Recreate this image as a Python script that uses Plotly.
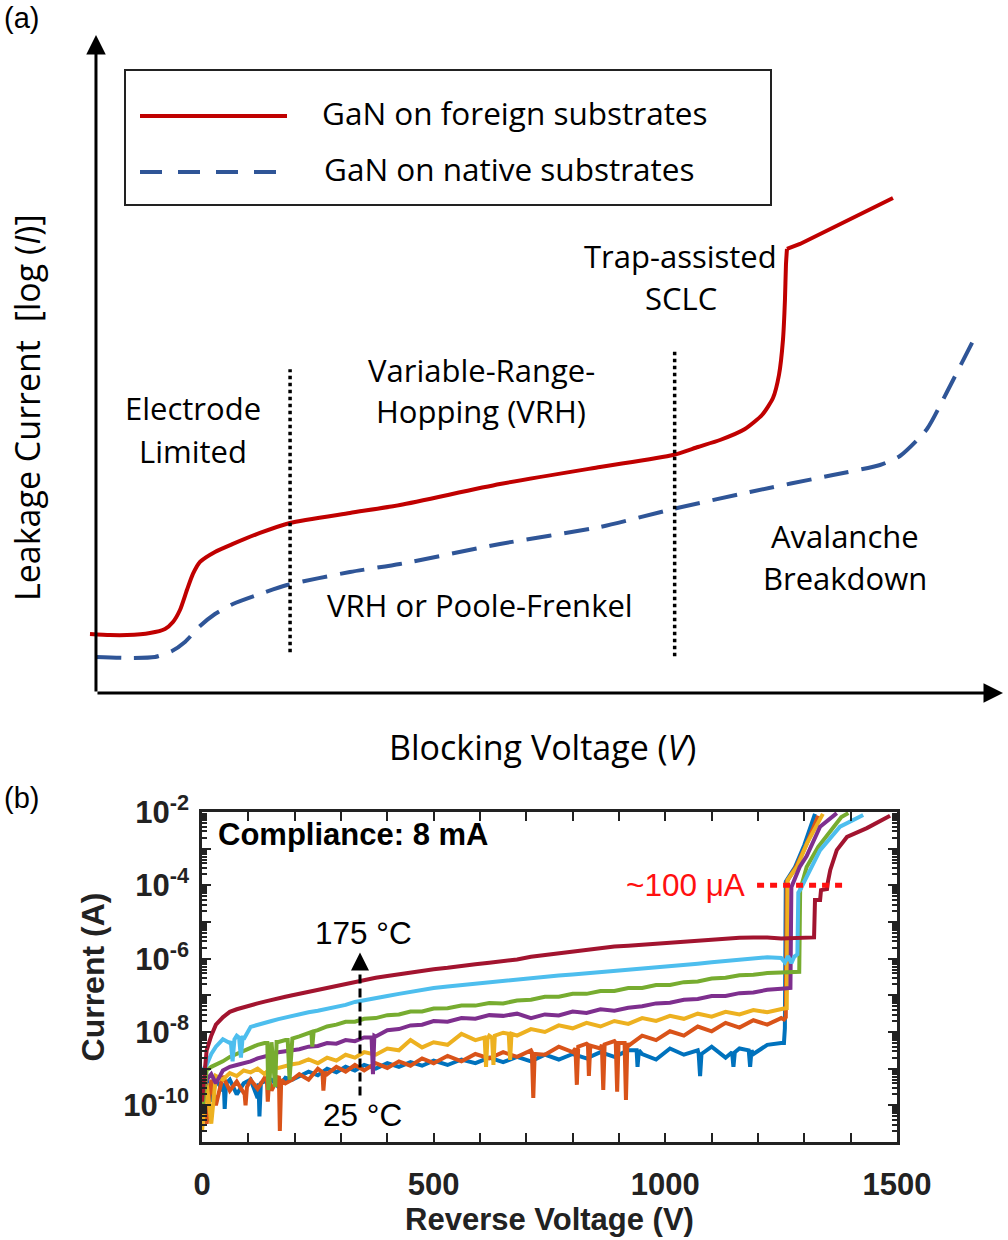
import plotly.graph_objects as go

W, H = 1008, 1240

# ---------------- Panel (a): schematic leakage curves (arbitrary units) ----------------
foreign_v = [-0.66, 1.54, 3.42, 5.95, 7.61, 8.49, 9.26, 10.03, 10.69, 11.47, 13.12, 15.10,
             18.08, 21.39, 28.0, 33.52, 44.54, 55.57, 63.61, 66.37, 68.8, 71.55, 73.43,
             74.64, 75.3, 75.74, 75.96, 76.07, 76.18]
foreign_logi = [8.97, 8.81, 8.81, 9.12, 9.73, 10.79, 12.61, 15.65, 18.09, 19.91, 21.43, 22.65,
                24.32, 25.84, 27.36, 28.57, 31.76, 34.35, 36.17, 37.39, 38.45, 40.12, 42.25,
                44.83, 48.33, 53.65, 59.73, 65.05, 67.48]
foreign_tail_v = [76.18, 77.62, 87.87]
foreign_tail_logi = [67.48, 68.24, 75.23]

native_v = [0, 3.75, 6.5, 8.38, 9.81, 11.47, 13.12, 15.1, 18.08, 21.06, 28.0, 33.52, 44.54,
            55.57, 63.61, 72.1, 81.25, 86.44, 88.64, 91.62, 93.82, 96.69]
native_logi = [5.47, 5.32, 5.47, 6.38, 7.75, 10.18, 12.01, 13.53, 15.05, 16.41, 18.39, 19.61,
               22.65, 25.23, 27.96, 30.55, 33.13, 34.65, 36.02, 40.12, 45.75, 53.5]

regime_bounds = [21.4, 63.8]

# ---------------- Panel (b): measured reverse I-V vs temperature ----------------
temps = ["25 °C", "50 °C", "75 °C", "100 °C", "125 °C", "150 °C", "175 °C"]

v_grid = [0, 10, 20, 30, 45, 60, 75, 90, 105, 120,
          135, 150, 165, 180, 195, 210, 230, 250, 270, 290,
          310, 330, 350, 375, 400, 425, 450, 475, 500, 530,
          560, 590, 620, 650, 680, 710, 740, 770, 800, 830,
          860, 890, 920, 950, 980, 1010, 1040, 1070, 1100, 1130,
          1160, 1190, 1220, 1250]

# 25 °C
logi_25 = [-10.4, -9.3, -9.9, -9.3, -9.6, -9.3, -9.7, -9.4, -9.3, -9.8,
           -9.35, -9.3, -9.5, -9.25, -9.3, -9.2, -9.08, -9.18, -9.0, -9.1,
           -8.95, -9.05, -8.9, -9.0, -8.85, -8.95, -8.82, -8.92, -8.78, -8.9,
           -8.75, -8.85, -8.7, -8.82, -8.68, -8.8, -8.62, -8.75, -8.6, -8.72,
           -8.55, -8.68, -8.5, -8.6, -8.75, -8.45, -8.62, -8.5, -8.4, -8.7,
           -8.45, -8.6, -8.35, -8.3]
spike_v_25 = [47, 49, 52, 122, 124, 127, 938, 940, 943, 1072, 1075, 1078, 1144, 1147, 1150,
              1180, 1183, 1186]
spike_logi_25 = [-9.4, -10.1, -9.4, -9.4, -10.3, -9.4, -8.5, -8.95, -8.5, -8.6, -9.2, -8.6,
                 -8.55, -8.95, -8.55, -8.5, -8.95, -8.5]
tail_v_25 = [1256, 1258, 1260, 1280, 1300, 1323]
tail_logi_25 = [-8.3, -7.9, -3.9, -3.5, -2.9, -2.05]

# 50 °C
logi_50 = [-9.6, -10.5, -9.3, -10.0, -9.2, -9.6, -9.35, -9.7, -9.3, -9.55,
           -9.25, -9.6, -9.2, -9.4, -9.3, -9.15, -9.3, -9.0, -9.15, -8.95,
           -9.08, -8.9, -9.05, -8.85, -8.98, -8.8, -8.92, -8.72, -8.85, -8.65,
           -8.8, -8.6, -8.72, -8.55, -8.68, -8.5, -8.62, -8.4, -8.55, -8.32,
           -8.45, -8.25, -8.38, -8.1, -8.22, -7.98, -8.1, -7.85, -7.98, -7.75,
           -7.88, -7.68, -7.8, -7.62]
spike_v_50 = [92, 94, 97, 140, 142, 145, 166, 168, 171, 260, 262, 265, 712, 715, 718,
              806, 809, 812, 833, 835, 838, 863, 866, 869, 893, 896, 899, 912, 915, 918]
spike_logi_50 = [-9.7, -10.0, -9.5, -9.3, -9.9, -9.3, -9.2, -10.7, -9.3, -9.1, -9.6, -9.1,
                 -8.55, -9.8, -8.6, -8.45, -9.44, -8.4, -8.35, -9.2, -8.37, -8.35, -9.58, -8.34,
                 -8.3, -9.63, -8.3, -8.3, -9.85, -8.3]
tail_v_50 = [1256, 1260, 1262, 1282, 1304, 1330]
tail_logi_50 = [-7.66, -7.6, -3.9, -3.5, -2.9, -2.1]

# 75 °C
logi_75 = [-10.7, -9.4, -10.5, -9.2, -9.3, -9.12, -9.2, -9.05, -9.1, -9.0,
           -9.15, -8.95, -8.98, -8.92, -8.88, -8.85, -8.75, -8.85, -8.7, -8.78,
           -8.62, -8.7, -8.55, -8.62, -8.45, -8.5, -8.22, -8.42, -8.28, -8.35,
           -8.05, -8.22, -8.1, -8.02, -8.1, -7.92, -8.0, -7.82, -7.9, -7.75,
           -7.85, -7.7, -7.78, -7.62, -7.7, -7.56, -7.64, -7.5, -7.58, -7.45,
           -7.52, -7.4, -7.46, -7.36]
spike_v_75 = [610, 613, 616, 626, 629, 632, 662, 665, 668]
spike_logi_75 = [-8.15, -8.95, -8.2, -8.15, -8.9, -8.1, -8.05, -8.76, -8.05]
tail_v_75 = [1256, 1262, 1264, 1284, 1306, 1340]
tail_logi_75 = [-7.36, -7.35, -3.85, -3.5, -2.85, -2.05]

# 100 °C
logi_100 = [-9.8, -9.3, -9.15, -9.4, -9.05, -8.95, -8.9, -8.85, -8.8, -8.72,
            -8.68, -8.62, -8.55, -8.52, -8.5, -8.47, -8.4, -8.38, -8.3, -8.32,
            -8.22, -8.25, -8.15, -8.12, -7.95, -7.92, -7.82, -7.8, -7.7, -7.72,
            -7.62, -7.64, -7.54, -7.56, -7.5, -7.62, -7.52, -7.55, -7.44, -7.48,
            -7.38, -7.42, -7.34, -7.3, -7.22, -7.2, -7.12, -7.1, -7.02, -7.02,
            -6.94, -6.92, -6.85, -6.82]
spike_v_100 = [366, 369, 372]
spike_logi_100 = [-8.15, -9.15, -8.1]
tail_v_100 = [1262, 1270, 1272, 1290, 1305, 1334, 1370]
tail_logi_100 = [-6.82, -6.8, -4.05, -3.5, -3.2, -2.4, -2.03]

# 125 °C
logi_125 = [-10.2, -9.05, -8.95, -8.9, -8.8, -8.68, -8.6, -8.5, -8.42, -8.35,
            -8.3, -8.28, -8.27, -8.22, -8.18, -8.12, -8.03, -7.95, -7.85, -7.8,
            -7.72, -7.72, -7.64, -7.62, -7.54, -7.52, -7.44, -7.44, -7.36, -7.35,
            -7.28, -7.28, -7.21, -7.22, -7.14, -7.12, -7.04, -7.04, -6.96, -6.96,
            -6.88, -6.88, -6.8, -6.8, -6.72, -6.72, -6.64, -6.62, -6.54, -6.52,
            -6.45, -6.44, -6.39, -6.38]
spike_v_125 = [141, 143, 146, 156, 158, 161, 185, 189, 193, 236, 238, 241]
spike_logi_125 = [-8.3, -9.58, -9.3, -9.2, -9.5, -8.27, -8.22, -9.3, -8.2, -8.0, -8.4, -7.98]
tail_v_125 = [1270, 1289, 1291, 1305, 1330, 1380, 1395]
tail_logi_125 = [-6.37, -6.36, -4.13, -3.5, -2.95, -2.14, -2.03]

# 150 °C
logi_150 = [-9.05, -8.9, -8.6, -8.4, -8.2, -8.3, -8.1, -8.2, -7.86, -7.8,
            -7.74, -7.7, -7.65, -7.6, -7.55, -7.5, -7.46, -7.42, -7.37, -7.32,
            -7.26, -7.18, -7.14, -7.08, -7.02, -6.96, -6.9, -6.85, -6.8, -6.76,
            -6.72, -6.68, -6.65, -6.62, -6.57, -6.53, -6.5, -6.46, -6.43, -6.4,
            -6.37, -6.33, -6.3, -6.27, -6.25, -6.22, -6.18, -6.14, -6.1, -6.07,
            -6.03, -6.0, -5.96, -5.98]
spike_v_150 = [62, 66, 70, 80, 84, 88]
spike_logi_150 = [-8.25, -8.8, -8.2, -8.15, -8.7, -8.1]
tail_v_150 = [1258, 1265, 1272, 1278, 1285, 1287, 1292, 1305, 1334, 1377, 1427]
tail_logi_150 = [-6.1, -5.93, -6.12, -5.95, -5.88, -4.2, -4.1, -3.77, -3.04, -2.4, -2.08]

# 175 °C
logi_175 = [-9.9, -8.5, -8.1, -7.8, -7.6, -7.45, -7.38, -7.32, -7.26, -7.22,
            -7.17, -7.12, -7.08, -7.04, -7.0, -6.96, -6.9, -6.85, -6.8, -6.74,
            -6.68, -6.62, -6.57, -6.52, -6.47, -6.42, -6.37, -6.33, -6.29, -6.25,
            -6.19, -6.15, -6.11, -6.07, -6.02, -5.95, -5.9, -5.86, -5.82, -5.76,
            -5.72, -5.67, -5.65, -5.62, -5.61, -5.57, -5.53, -5.5, -5.47, -5.46,
            -5.43, -5.42, -5.42, -5.45]
spike_v_175 = []
spike_logi_175 = []
tail_v_175 = [1280, 1300, 1321, 1323, 1334, 1336, 1349, 1351, 1356, 1370, 1392, 1435, 1485]
tail_logi_175 = [-5.44, -5.41, -5.42, -4.4, -4.4, -4.13, -4.1, -3.9, -3.58, -3.04, -2.68, -2.44, -2.1]

series_b = [
    (logi_25, spike_v_25, spike_logi_25, tail_v_25, tail_logi_25, "#0072BD"),
    (logi_50, spike_v_50, spike_logi_50, tail_v_50, tail_logi_50, "#D95319"),
    (logi_75, spike_v_75, spike_logi_75, tail_v_75, tail_logi_75, "#EDB120"),
    (logi_100, spike_v_100, spike_logi_100, tail_v_100, tail_logi_100, "#7E2F8E"),
    (logi_125, spike_v_125, spike_logi_125, tail_v_125, tail_logi_125, "#77AC30"),
    (logi_150, spike_v_150, spike_logi_150, tail_v_150, tail_logi_150, "#4DBEEE"),
    (logi_175, spike_v_175, spike_logi_175, tail_v_175, tail_logi_175, "#A2142F"),
]

compliance_v = [1198, 1394]
compliance_i = [1e-4, 1e-4]
temp_arrow_v = 341
temp_arrow_logi = [-9.73, -5.95]

# ---------------- figure ----------------
fig = go.Figure()

RED = "#C00000"
BLUE = "#2F5597"

fig.add_trace(go.Scatter(x=foreign_v, y=foreign_logi, mode="lines",
                         line=dict(color=RED, width=4, shape="spline", smoothing=0.6),
                         xaxis="x", yaxis="y"))
fig.add_trace(go.Scatter(x=foreign_tail_v, y=foreign_tail_logi, mode="lines",
                         line=dict(color=RED, width=4), xaxis="x", yaxis="y"))
fig.add_trace(go.Scatter(x=native_v, y=native_logi, mode="lines",
                         line=dict(color=BLUE, width=4, dash="25px,13px", shape="spline",
                                   smoothing=0.6),
                         xaxis="x", yaxis="y"))

for logi, sv, sl, tv, tl, col in series_b:
    pts = sorted(zip(v_grid + sv, logi + sl), key=lambda p: p[0]) + list(zip(tv, tl))
    xs = [p[0] for p in pts]
    ys = [10 ** p[1] for p in pts]
    fig.add_trace(go.Scatter(x=xs, y=ys, mode="lines", line=dict(color=col, width=4),
                             xaxis="x2", yaxis="y2"))

fig.add_trace(go.Scatter(x=compliance_v, y=compliance_i, mode="lines",
                         line=dict(color="#FF1010", width=5, dash="7px,6px"),
                         xaxis="x2", yaxis="y2"))
fig.add_trace(go.Scatter(x=[temp_arrow_v, temp_arrow_v],
                         y=[10 ** v for v in temp_arrow_logi], mode="lines",
                         line=dict(color="black", width=3, dash="9px,5px"),
                         xaxis="x2", yaxis="y2"))


def P(px, py):
    return px / W, 1 - py / H


annotations = []
shapes = []

OS = "Open Sans, Noto Sans, sans-serif"
AR = "Liberation Sans, Arial, sans-serif"


def text(s, px, py, size, family=OS, color="black", xanchor="center", weight="normal", angle=0):
    x, y = P(px, py)
    annotations.append(dict(text=s, x=x, y=y, xref="paper", yref="paper", showarrow=False,
                            xanchor=xanchor, yanchor="middle", textangle=angle,
                            font=dict(size=size, family=family, color=color, weight=weight)))


# panel (a) axes with arrows
annotations.append(dict(x=0, y=100, ax=0, ay=0, xref="x", yref="y", axref="x", ayref="y",
                        showarrow=True, arrowhead=2, arrowsize=1.3, arrowwidth=3,
                        arrowcolor="black", text=""))
annotations.append(dict(x=100, y=0, ax=0, ay=0, xref="x", yref="y", axref="x", ayref="y",
                        showarrow=True, arrowhead=2, arrowsize=1.3, arrowwidth=3,
                        arrowcolor="black", text=""))

# regime separators
for xb, (y0, y1) in zip(regime_bounds, [(6.2, 49.2), (5.6, 52.4)]):
    shapes.append(dict(type="line", xref="x", yref="y", x0=xb, x1=xb, y0=y0, y1=y1,
                       line=dict(color="black", width=3.5, dash="dot")))

# legend box (panel a)
x0, y0 = P(125, 70)
x1, y1 = P(771, 205)
shapes.append(dict(type="rect", xref="paper", yref="paper", x0=x0, y0=y1, x1=x1, y1=y0,
                   line=dict(color="#222", width=2)))
a, b = P(140, 116)
c, d = P(287, 116)
shapes.append(dict(type="line", xref="paper", yref="paper", x0=a, y0=b, x1=c, y1=d,
                   line=dict(color=RED, width=4)))
a, b = P(140, 172)
c, d = P(280, 172)
shapes.append(dict(type="line", xref="paper", yref="paper", x0=a, y0=b, x1=c, y1=d,
                   line=dict(color=BLUE, width=4, dash="22px,16px")))
text("GaN on foreign substrates", 320, 112, 31.5, xanchor="left")
text("GaN on native substrates", 322, 168, 31.5, xanchor="left")

# region labels
text("Trap-assisted", 680, 256, 31)
text("SCLC", 681, 298, 31)
text("Variable-Range-", 481, 370, 31)
text("Hopping (VRH)", 481, 411, 31)
text("Electrode", 193, 408, 31)
text("Limited", 193, 451, 31)
text("VRH or Poole-Frenkel", 480, 605, 31)
text("Avalanche", 845, 536, 31)
text("Breakdown", 845, 578, 31)

text("Leakage Current \u00a0[log (<i>I</i>)]", 27, 408, 34, angle=-90)
text("Blocking Voltage (<i>V</i>)", 542, 747, 34)

text("(a)", 21, 18, 29, family=AR)
text("(b)", 21, 798, 29, family=AR)

# panel (b) annotations
text("Compliance: 8 mA", 216, 834, 31, family=AR, xanchor="left", weight="bold")
text("~100 μA", 624, 885, 31.5, family=AR, color="#FF1010", xanchor="left")
text("175 °C", 363, 933, 31.5, family=AR)
text("25 °C", 362, 1115, 31.5, family=AR)
annotations.append(dict(x=temp_arrow_v, y=-5.83, xref="x2", yref="y2", ax=0, ay=14,
                        showarrow=True, arrowhead=2, arrowsize=1.2, arrowwidth=3,
                        arrowcolor="black", text=""))

ymajor = [10.0 ** e for e in range(-11, -1)]
ylabels = ["" if e % 2 else "10<sup>%d</sup>" % e for e in range(-11, -1)]
yminor = [m * 10.0 ** e for e in range(-11, -2) for m in range(2, 10)]

tickfont_b = dict(family=AR, size=31, color="#222", weight="bold")

fig.update_layout(
    width=W, height=H, margin=dict(l=0, r=0, t=0, b=0, autoexpand=False),
    paper_bgcolor="white", plot_bgcolor="white", showlegend=False,
    xaxis=dict(domain=[86 / W, 1003 / W], range=[-1.1, 100], visible=False, anchor="y",
               automargin=False),
    yaxis=dict(domain=[1 - 693 / H, 1 - 35 / H], range=[0, 100], visible=False, anchor="x",
               automargin=False),
    xaxis2=dict(domain=[202 / W, 897 / W], range=[0, 1500], anchor="y2", automargin=False,
                showline=True, linecolor="#222", linewidth=2.5, mirror="ticks",
                showgrid=False, zeroline=False,
                ticks="inside", ticklen=9, tickwidth=2, tickcolor="#222",
                tickmode="array", tickvals=[0, 500, 1000, 1500],
                ticktext=["0", "500", "1000", "1500"], tickfont=tickfont_b,
                ticklabelstandoff=13,
                minor=dict(tickmode="linear", tick0=0, dtick=100, ticks="inside",
                           ticklen=9, tickwidth=2, tickcolor="#222", showgrid=False),
                title=dict(text="Reverse Voltage (V)", standoff=4,
                           font=dict(family=AR, size=31, color="#222", weight="bold"))),
    yaxis2=dict(domain=[1 - 1142 / H, 1 - 812 / H], type="log", range=[-11, -2], anchor="x2",
                automargin=False,
                showline=True, linecolor="#222", linewidth=2.5, mirror="ticks",
                showgrid=False, zeroline=False,
                ticks="inside", ticklen=9, tickwidth=2, tickcolor="#222",
                tickmode="array", tickvals=ymajor, ticktext=ylabels, tickfont=tickfont_b,
                ticklabelstandoff=4,
                minor=dict(tickmode="array", tickvals=yminor, ticks="inside",
                           ticklen=5, tickwidth=1.5, tickcolor="#222", showgrid=False),
                title=dict(text="Current (A)", standoff=10,
                           font=dict(family=AR, size=32, color="#222", weight="bold"))),
    annotations=annotations,
    shapes=shapes,
)

fig.write_html("out.html")
